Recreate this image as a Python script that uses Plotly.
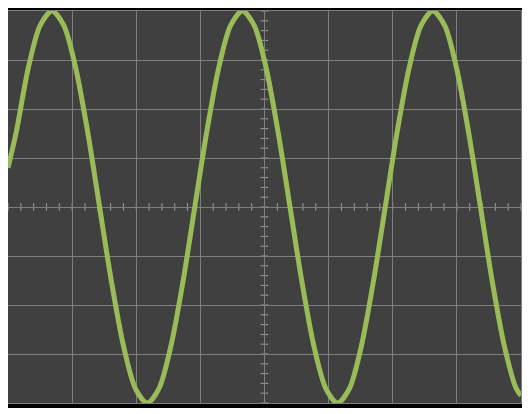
import plotly.graph_objects as go

# Signal samples (divisions)
time_div = [0, 0.129, 0.315, 0.500, 0.686, 0.872, 1.057, 1.243, 1.428, 1.614, 1.800, 1.985,
            2.171, 2.356, 2.542, 2.728, 2.913, 3.099, 3.284, 3.470, 3.656, 3.841, 4.027,
            4.212, 4.398, 4.584, 4.769, 4.955, 5.140, 5.326, 5.512, 5.697, 5.883, 6.068,
            6.254, 6.440, 6.625, 6.811, 6.996, 7.182, 7.368, 7.553, 7.739, 7.924, 8.0]
volts_div = [0.8, 1.53, 2.83, 3.70, 4, 3.70, 2.83, 1.53, 0, -1.53, -2.83, -3.70,
             -4, -3.70, -2.83, -1.53, 0, 1.53, 2.83, 3.70, 4, 3.70, 2.83,
             1.53, 0, -1.53, -2.83, -3.70, -4, -3.70, -2.83, -1.53, 0, 1.53,
             2.83, 3.70, 4, 3.70, 2.83, 1.53, 0, -1.53, -2.83, -3.70, -3.85]

fig = go.Figure(go.Scatter(x=time_div, y=volts_div, mode="lines",
                           line=dict(color="#9bbb59", width=5, shape="spline", smoothing=0.8),
                           hoverinfo="skip"))

shapes = []
tc = "#9a9a9a"
for i in range(41):
    v = i * 0.2
    shapes.append(dict(type="line", xref="x", yref="y", x0=v, x1=v, y0=-0.08, y1=0.08,
                       line=dict(color=tc, width=1), layer="below"))
    w = -4 + i * 0.2
    shapes.append(dict(type="line", xref="x", yref="y", x0=3.94, x1=4.06, y0=w, y1=w,
                       line=dict(color=tc, width=1), layer="below"))

fig.update_layout(
    width=522, height=400, margin=dict(l=0, r=9, t=3, b=5),
    paper_bgcolor="#000000", plot_bgcolor="#404040", showlegend=False,
    shapes=shapes,
    xaxis=dict(range=[0, 8], dtick=1, showgrid=True, gridcolor="#7f7f7f", gridwidth=1,
               showticklabels=False, zeroline=False, showline=True, linecolor="#7f7f7f", mirror=True),
    yaxis=dict(range=[-4, 4], dtick=1, showgrid=True, gridcolor="#7f7f7f", gridwidth=1,
               showticklabels=False, zeroline=False, showline=True, linecolor="#7f7f7f", mirror=True),
)
fig.write_html("out.html", default_height=400, default_width=522)
